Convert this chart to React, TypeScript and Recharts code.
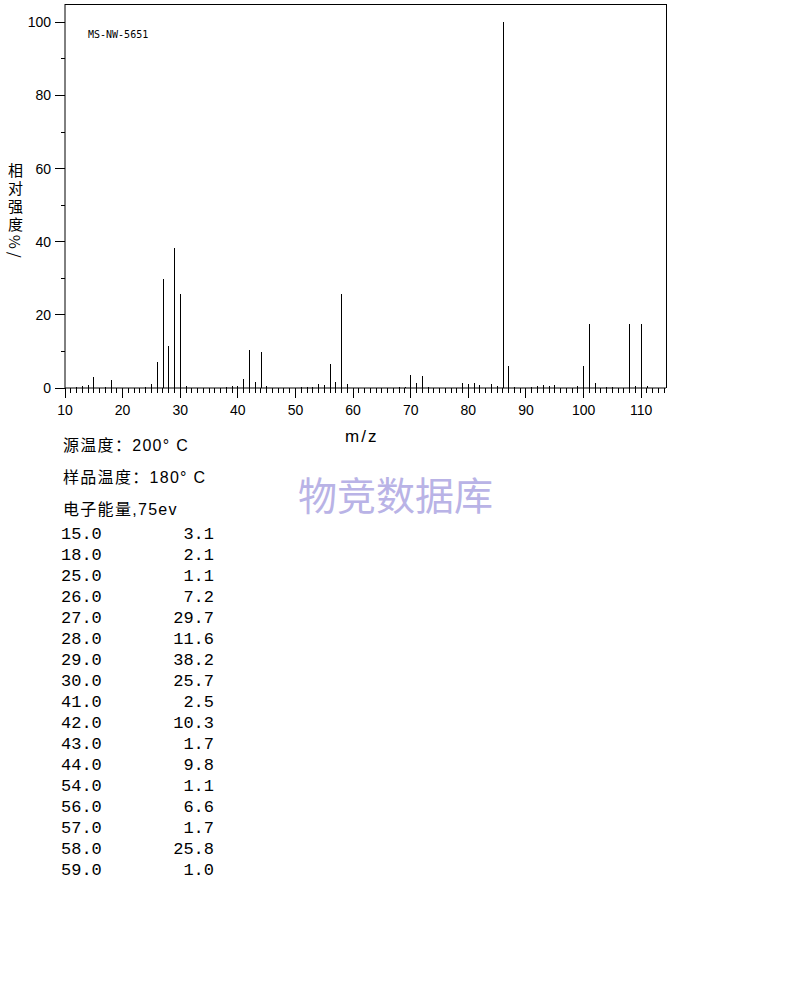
import { BarChart, Bar, XAxis, YAxis, ReferenceLine } from 'recharts';

// mass spectrum peaks
const mz = [
  12, 13, 14, 15, 17, 18, 24, 25, 26, 27, 28, 29, 30, 31, 38, 39, 40, 41, 42, 43, 44, 45, 51, 52,
  53, 54, 55, 56, 57, 58, 59, 68, 69, 70, 71, 72, 73, 79, 80, 81, 82, 84, 85, 86, 87, 88, 91, 92,
  93, 94, 95, 99, 100, 101, 102, 104, 105, 108, 109, 110, 111,
];
const intensity = [
  0.3, 0.5, 0.8, 3.1, 0.4, 2.1, 0.3, 1.1, 7.2, 29.7, 11.6, 38.2, 25.7, 0.6, 0.3, 0.5, 0.6, 2.5, 10.3,
  1.7, 9.8, 0.6, 0.3, 0.4, 0.4, 1.1, 0.9, 6.6, 1.7, 25.8, 1.0, 0.4, 0.4, 3.6, 1.5, 3.4, 0.4, 1.4, 1.2,
  1.5, 0.9, 1.1, 0.5, 100, 5.9, 0.4, 0.4, 0.5, 0.9, 0.5, 0.9, 0.6, 5.9, 17.6, 1.5, 0.4, 0.3, 17.6,
  0.6, 17.6, 0.5,
];

const xDomain = [10, 114.3];
const yDomain = [0, 105];
const xTicks = Array.from({ length: 105 }, (_, i) => 10 + i);
const yTicks = [0, 10, 20, 30, 40, 50, 60, 70, 80, 90, 100];

const infoLines = ['源温度：200° C', '样品温度：180° C', '电子能量,75ev'];
const tableMz = [
  '15.0', '18.0', '25.0', '26.0', '27.0', '28.0', '29.0', '30.0', '41.0', '42.0', '43.0', '44.0',
  '54.0', '56.0', '57.0', '58.0', '59.0',
];
const tableInt = [
  '3.1', '2.1', '1.1', '7.2', '29.7', '11.6', '38.2', '25.7', '2.5', '10.3', '1.7', '9.8', '1.1',
  '6.6', '1.7', '25.8', '1.0',
];

const data = mz.map((m, i) => ({ mz: m, intensity: intensity[i] }));

const axisFont = '"Liberation Sans", Arial, sans-serif';

function XTick({ x, y, payload }: any) {
  const major = payload.value % 10 === 0;
  return (
    <g>
      <line x1={x} x2={x} y1={y} y2={y + (major ? 10 : 5)} stroke='#000' shapeRendering='crispEdges' />
      {major && (
        <text x={x} y={y + 22} textAnchor='middle' dominantBaseline='central' fontSize={14} fontFamily={axisFont} fill='#000'>
          {payload.value}
        </text>
      )}
    </g>
  );
}

function YTick({ x, y, payload }: any) {
  const major = payload.value % 20 === 0;
  return (
    <g>
      <line x1={x - (major ? 10 : 4)} x2={x} y1={y} y2={y} stroke='#000' shapeRendering='crispEdges' />
      {major && (
        <text x={x - 14} y={y} textAnchor='end' dominantBaseline='central' fontSize={14} fontFamily={axisFont} fill='#000'>
          {payload.value}
        </text>
      )}
    </g>
  );
}

function Stick(props: any) {
  const { x, y, width, height } = props;
  if (!height) return null;
  const cx = Math.round(x + width / 2);
  return <line x1={cx} x2={cx} y1={y} y2={y + height} stroke='#000' strokeWidth={1} shapeRendering='crispEdges' />;
}

export default function App() {
  return (
    <div style={{ position: 'absolute', left: 0, top: 0, width: 794, height: 992, background: '#fff' }}>
      <BarChart width={700} height={450} data={data} margin={{ top: 4, right: 34, bottom: 22, left: 0 }} barSize={1}>
        <XAxis
          dataKey='mz'
          type='number'
          domain={xDomain}
          ticks={xTicks}
          interval={0}
          allowDataOverflow
          tickSize={0}
          tickMargin={0}
          tickLine={false}
          tick={<XTick />}
          height={40}
          axisLine={{ stroke: '#000' }}
        />
        <YAxis
          type='number'
          domain={yDomain}
          ticks={yTicks}
          interval={0}
          allowDataOverflow
          tickSize={0}
          tickMargin={0}
          tickLine={false}
          tick={<YTick />}
          width={65}
          axisLine={{ stroke: '#000' }}
        />
        {/* frame: top and right edges */}
        <ReferenceLine y={yDomain[1]} stroke='#000' shapeRendering='crispEdges' />
        <ReferenceLine x={xDomain[1]} stroke='#000' shapeRendering='crispEdges' />
        <Bar dataKey='intensity' fill='#000' shape={<Stick />} isAnimationActive={false} />
      </BarChart>

      <div style={{ position: 'absolute', left: 88, top: 29, fontSize: 10, fontFamily: '"DejaVu Sans Mono", monospace', lineHeight: '12px' }}>
        MS-NW-5651
      </div>
      <div
        style={{
          position: 'absolute',
          left: 6,
          top: 163,
          writingMode: 'vertical-rl',
          fontSize: 15,
          letterSpacing: 3,
          fontFamily: '"Noto Sans CJK SC", sans-serif',
          lineHeight: '18px',
        }}
      >
        相对强度%/
      </div>
      <div style={{ position: 'absolute', left: 345, top: 427, fontSize: 17, letterSpacing: 2, fontFamily: '"Liberation Sans", sans-serif', lineHeight: '20px' }}>
        m/z
      </div>

      {infoLines.map((t, i) => (
        <div
          key={t}
          style={{
            position: 'absolute',
            left: 63,
            top: 436 + i * 32,
            fontSize: 16,
            letterSpacing: 1.3,
            lineHeight: '20px',
            fontFamily: '"Liberation Sans", "Noto Sans CJK SC", sans-serif',
            whiteSpace: 'pre',
          }}
        >
          {t}
        </div>
      ))}

      <div
        style={{
          position: 'absolute',
          left: 298,
          top: 470,
          fontSize: 39,
          lineHeight: '46px',
          color: '#b9b3e6',
          fontFamily: '"Noto Sans CJK SC", sans-serif',
        }}
      >
        物竞数据库
      </div>

      {tableMz.map((m, i) => (
        <div
          key={m}
          style={{
            position: 'absolute',
            left: 61,
            top: 525 + i * 21,
            width: 153,
            display: 'flex',
            justifyContent: 'space-between',
            fontSize: 17,
            lineHeight: '20px',
            fontFamily: '"Liberation Mono", "Courier New", monospace',
          }}
        >
          <span>{m}</span>
          <span>{tableInt[i]}</span>
        </div>
      ))}
    </div>
  );
}
